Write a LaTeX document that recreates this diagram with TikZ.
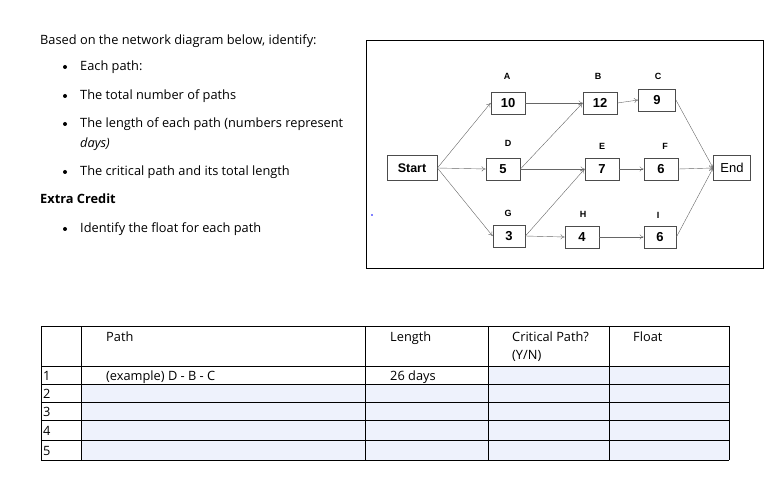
\documentclass[tikz,border=0pt]{standalone}
\usepackage{fontspec}
\setmainfont{Open Sans}
\newfontfamily\arialf{Liberation Sans}
\usetikzlibrary{arrows.meta}
\definecolor{cellfill}{HTML}{EEF2FC}
\begin{document}
\begin{tikzpicture}[x=1pt,y=-1pt,
  txt/.style={anchor=base west,inner sep=0pt,font=\fontsize{12.8}{15}\selectfont},
  nbox/.style={draw=black!70,thick,fill=white,minimum width=34pt,minimum height=22pt,inner sep=0pt,font=\arialf\bfseries\fontsize{13}{15}\selectfont},
  lab/.style={inner sep=0pt,font=\arialf\bfseries\fontsize{9}{10}\selectfont},
  arr/.style={draw=black!60,-{To[length=4pt,width=5pt]}},
  tab/.style={draw=black,line width=0.8pt},
  cell/.style={txt,font=\fontsize{12.8}{15}\selectfont}]
\useasboundingbox (0,0) rectangle (773,478);
% left text
\node[txt] (t0) at (40,45) {Based on the network diagram below, identify:};
\foreach \y/\t/\n in {71/Each path:/b1, 100/The total number of paths/b2, 176/The critical path and its total length/b4, 233/Identify the float for each path/b5}{
  \fill (65,\y-4) circle (2pt);
  \node[txt] (\n) at (80,\y) {\t};
}
\fill (65,124) circle (2pt);
\node[txt] (b3) at (80,128) {The length of each path (numbers represent};
\node[txt] (b3b) at (80,148) {\itshape days)};
\node[txt,font=\bfseries\fontsize{12.8}{15}\selectfont] (ec) at (40,204) {Extra Credit};
% network frame
\draw[line width=1pt] (366,41) rectangle (763,268);
\node[nbox,minimum width=50pt,minimum height=25pt,font=\arialf\bfseries\fontsize{12.5}{14}\selectfont] (S) at (412,168) {Start};
\node[nbox] (A) at (508,103) {10};
\node[nbox] (B) at (600,103) {12};
\node[nbox,minimum width=37pt] (C) at (657,100) {9};
\node[nbox] (D) at (503,169) {5};
\node[nbox] (E) at (602,169) {7};
\node[nbox] (F) at (661,169) {6};
\node[nbox,minimum width=37pt,minimum height=25pt,font=\arialf\fontsize{13}{15}\selectfont] (End) at (732,168) {End};
\node[nbox,minimum width=32pt] (G) at (509,236) {3};
\node[nbox] (H) at (582,237) {4};
\node[nbox,minimum width=32pt] (I) at (660,237) {6};
\foreach \n/\x/\y in {A/507/76,B/598/76,C/658/76,D/508/143,E/602/146,F/665/146,G/508/213,H/583/214,I/658/215}
  \node[lab] (l\n) at (\x,\y) {\n};
\draw[arr] (S.east) -- (A.west);
\draw[arr] (S.east) -- (D.west);
\draw[arr] (S.east) -- (G.west);
\draw[arr] (A.east) -- (B.west);
\draw[arr] (D.east) -- (B.west);
\draw[arr] (D.east) -- (E.west);
\draw[arr] (G.east) -- (E.west);
\draw[arr] (G.east) -- (H.west);
\draw[arr] (B.east) -- (C.west);
\draw[arr] (E.east) -- (F.west);
\draw[arr] (H.east) -- (I.west);
\draw[arr] (C.east) -- (End.west);
\draw[arr] (F.east) -- (End.west);
\draw[arr] (I.east) -- (End.west);
\fill[blue] (372,215) circle (0.8pt);
% table
\fill[cellfill] (81,384) rectangle (729,460);
\fill[cellfill] (488,366) rectangle (729,384);
\foreach \y in {326,366,384,402,420,440,460} \draw[tab] (41,\y) -- (729,\y);
\foreach \x in {41,81,365,488,609,729} \draw[tab] (\x,326) -- (\x,460);
\node[cell] (h1) at (106,341) {Path};
\node[cell] (h2) at (390,341) {Length};
\node[cell] (h3) at (512,341) {Critical Path?};
\node[cell] (h3b) at (512,359) {(Y/N)};
\node[cell] (h4) at (633,341) {Float};
\node[cell] (r1) at (106,380) {(example) D - B - C};
\node[cell] (r1b) at (390,380) {26 days};
\foreach \i/\y in {1/380,2/398,3/416,4/435,5/455} \node[cell] (n\i) at (43,\y) {\i};
\end{tikzpicture}
\end{document}
